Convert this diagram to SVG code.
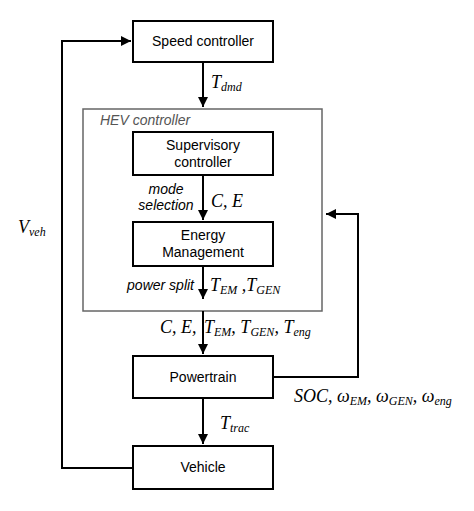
<svg xmlns="http://www.w3.org/2000/svg" width="474" height="511" viewBox="0 0 474 511">
<defs>
<marker id="ah" viewBox="0 0 10 10" refX="10" refY="5" markerWidth="10" markerHeight="10" markerUnits="userSpaceOnUse" orient="auto">
<path d="M0,0 L10,5 L0,10 z" fill="#000"/>
</marker>
<style>
.box{fill:#fff;stroke:#000;stroke-width:2}
.bt{font-family:"Liberation Sans",Arial,sans-serif;font-size:14px;text-anchor:middle;fill:#000}
.ln{fill:none;stroke:#000;stroke-width:2}
.m{font-family:"Liberation Serif","Times New Roman",serif;font-style:italic;font-size:18px;fill:#000}
.s{font-size:12px}
.it{font-family:"Liberation Sans",Arial,sans-serif;font-style:italic;font-size:14px;fill:#000}
</style>
</defs>
<rect width="474" height="511" fill="#fff"/>
<g id="hev">
<rect x="83" y="109" width="239" height="202" fill="none" stroke="#666" stroke-width="1.5"/>
<text x="100" y="125" class="it" style="fill:#555">HEV controller</text>
</g>
<g id="connectors">
<line x1="203" y1="62" x2="203" y2="107" class="ln" marker-end="url(#ah)"/>
<line x1="203" y1="175" x2="203" y2="220" class="ln" marker-end="url(#ah)"/>
<line x1="203" y1="266" x2="203" y2="299" class="ln" marker-end="url(#ah)"/>
<line x1="203" y1="311" x2="203" y2="354" class="ln" marker-end="url(#ah)"/>
<line x1="203" y1="398" x2="203" y2="444" class="ln" marker-end="url(#ah)"/>
<polyline points="273,377 358,377 358,214 326,214" class="ln" marker-end="url(#ah)"/>
<polyline points="133,468 62,468 62,41 131,41" class="ln" marker-end="url(#ah)"/>
</g>
<g id="speed"><rect x="133" y="21" width="140" height="41" class="box"/><text x="203" y="46" class="bt">Speed controller</text></g>
<g id="supervisory"><rect x="133" y="132" width="140" height="43" class="box"/><text x="203" y="150" class="bt">Supervisory</text><text x="203" y="167" class="bt">controller</text></g>
<g id="energy"><rect x="133" y="222" width="140" height="44" class="box"/><text x="203" y="240" class="bt">Energy</text><text x="203" y="257" class="bt">Management</text></g>
<g id="powertrain"><rect x="133" y="356" width="140" height="42" class="box"/><text x="203" y="382" class="bt">Powertrain</text></g>
<g id="vehicle"><rect x="133" y="446" width="140" height="43" class="box"/><text x="203" y="472" class="bt">Vehicle</text></g>
<g id="labels">
<text x="211" y="88" class="m">T<tspan class="s" dy="3">dmd</tspan></text>
<text x="166" y="194" class="it" text-anchor="middle">mode</text>
<text x="166" y="210" class="it" text-anchor="middle">selection</text>
<text x="211" y="207" class="m">C, E</text>
<text x="194" y="290" class="it" text-anchor="end">power split</text>
<text x="210" y="291" class="m">T<tspan class="s" dy="3">EM</tspan><tspan dy="-3"> ,T</tspan><tspan class="s" dy="3">GEN</tspan></text>
<text x="160" y="333" class="m">C, E, <tspan dx="3">T</tspan><tspan class="s" dy="3">EM</tspan><tspan dy="-3">, T</tspan><tspan class="s" dy="3">GEN</tspan><tspan dy="-3">, T</tspan><tspan class="s" dy="3">eng</tspan></text>
<text x="294" y="402" class="m">SOC, ω<tspan class="s" dy="3">EM</tspan><tspan dy="-3">, ω</tspan><tspan class="s" dy="3">GEN</tspan><tspan dy="-3">, ω</tspan><tspan class="s" dy="3">eng</tspan></text>
<text x="220" y="429" class="m">T<tspan class="s" dy="3">trac</tspan></text>
<text x="18" y="233" class="m">V<tspan class="s" dy="3">veh</tspan></text>
</g>
</svg>
